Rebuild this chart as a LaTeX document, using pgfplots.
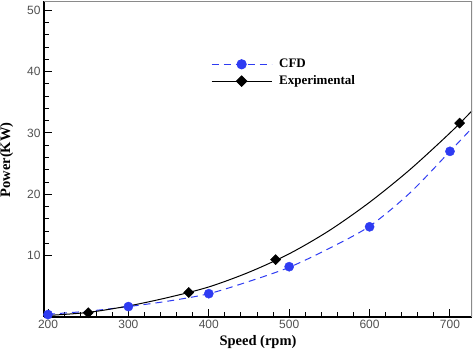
\documentclass[border=0pt]{standalone}
\usepackage{pgfplots}
\pgfplotsset{compat=1.18}
\usepackage{fontspec}
\setmainfont{Liberation Serif}
\newfontfamily\ticksfont{Liberation Sans}
\definecolor{cfdblue}{HTML}{2E3BF2}
\definecolor{framegray}{HTML}{8A8A8A}
\definecolor{tickgray}{HTML}{505050}
\begin{document}
\begin{tikzpicture}
\useasboundingbox (0,0) rectangle (474pt,349pt);
\begin{axis}[
  at={(44pt,32pt)}, anchor=south west,
  scale only axis, width=428pt, height=316pt,
  xmin=195, xmax=727.4, ymin=0, ymax=51.5,
  axis x line*=bottom, axis y line*=left,
  axis line style={black, line width=1.3pt, -},
  xtick={200,300,...,700}, ytick={10,20,...,50},
  minor x tick num=4, minor y tick num=4,
  tick align=inside,
  major tick length=8pt, minor tick length=5pt,
  tick style={black, line width=1pt},
  /pgf/number format/assume math mode=true,
  tick label style={font=\ticksfont\fontsize{12}{14}\selectfont, text=tickgray},
  xlabel={\bfseries Speed (rpm)},
  ylabel={\bfseries Power(KW)},
  every axis x label/.style={font=\fontsize{14.5}{16}\selectfont, at={(axis description cs:0.5,0)}, anchor=north, yshift=-15pt},
  every axis y label/.style={font=\fontsize{14.5}{16}\selectfont, rotate=90, at={(axis description cs:-0.087,0.497)}, anchor=center},
  legend style={draw=none, fill=none, font=\bfseries\fontsize{13}{14}\selectfont,
    at={(axis description cs:0.383,0.829)}, anchor=north west, row sep=2.5pt},
  legend cell align=left,
  legend image code/.code={\draw[mark repeat=2,mark phase=2] plot coordinates {(0pt,0pt)(30pt,0pt)(60pt,0pt)};},
  clip=true,
]
% smooth curves
\addplot[cfdblue, line width=1pt, dash pattern=on 7pt off 5pt, smooth, forget plot] coordinates {
 (200,0.45) (250,0.95) (300,1.7) (350,2.6) (400,3.8) (450,5.8) (500,8.1) (550,11.2) (600,14.8) (650,20.2) (700,27.0) (727.4,30.8)};
\addplot[black, line width=1pt, smooth, forget plot] coordinates {
 (200,0.25) (250,0.75) (300,1.8) (350,3.2) (400,4.9) (450,7.3) (500,10.3) (550,14.1) (600,18.7) (650,24.0) (700,30.0) (727.4,33.6)};
% markers
\addplot[cfdblue, only marks, mark=*, mark size=4.6pt, forget plot] coordinates {
 (200,0.4) (300,1.7) (400,3.8) (500,8.2) (600,14.7) (700,27.0)};
\addplot[black, only marks, mark=square*, mark size=3.6pt, mark options={rotate=45}, forget plot] coordinates {
 (250,0.7) (375,4.0) (483,9.35) (712,31.6)};
\addlegendimage{cfdblue, line width=1pt, dash pattern=on 7pt off 5pt, mark=*, mark size=4.6pt, mark options={solid}}
\addlegendentry{\hspace*{5pt}CFD}
\addlegendimage{black, line width=1pt, mark=square*, mark size=3.6pt, mark options={rotate=45}}
\addlegendentry{\hspace*{5pt}Experimental}
\draw[framegray, line width=2pt] (rel axis cs:0,1) -- (rel axis cs:1,1) -- (rel axis cs:1,0);
\end{axis}
\end{tikzpicture}
\end{document}
